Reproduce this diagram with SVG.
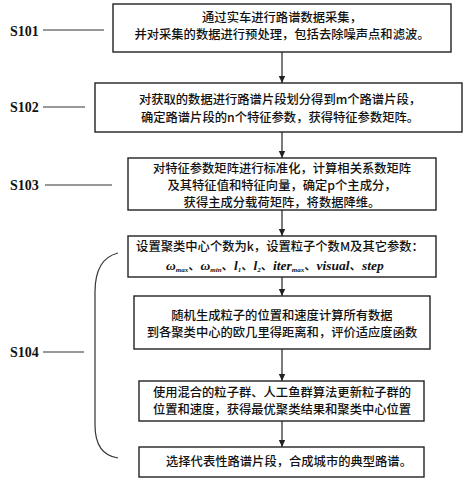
<svg xmlns="http://www.w3.org/2000/svg" width="474" height="482" viewBox="0 0 474 482">
<defs>
<marker id="ah" markerWidth="8" markerHeight="8" refX="7" refY="4" orient="auto" markerUnits="userSpaceOnUse">
<path d="M0,0.8 L7,4 L0,7.2 Z" fill="#222"/>
</marker>
<style>
.box{fill:#fff;stroke:#222;stroke-width:1.4}
.t{font-family:"Noto Sans CJK SC","Noto Sans CJK JP",sans-serif;font-size:12.3px;fill:#111;text-anchor:middle;font-weight:500}
.lbl{font-family:"Liberation Serif",serif;font-size:14px;font-weight:bold;fill:#111}
.ln{stroke:#333;stroke-width:1.2;fill:none}
.m{font-family:"Liberation Serif",serif;font-style:italic;font-weight:bold;font-size:13.5px;fill:#111}
.sub{font-size:7px}
.cjk{font-family:"Noto Sans CJK SC",sans-serif;font-style:normal;font-weight:500;font-size:12.3px}
</style>
</defs>
<rect width="474" height="482" fill="#fff"/>

<g id="labels">
<text class="lbl" x="10" y="36">S101</text>
<text class="lbl" x="10" y="112">S102</text>
<text class="lbl" x="10" y="190">S103</text>
<text class="lbl" x="10" y="357">S104</text>
<line class="ln" x1="43" y1="30" x2="104" y2="30"/>
<line class="ln" x1="43" y1="107" x2="85" y2="107"/>
<line class="ln" x1="45" y1="185" x2="112" y2="185"/>
<line class="ln" x1="43" y1="352" x2="84" y2="352"/>
<path class="ln" d="M118,253 C102,257 95,270 95,292 L95,425 C95,447 104,456 118,458"/>
</g>

<g id="connectors" stroke="#222" stroke-width="1.2">
<line x1="282" y1="52" x2="282" y2="83" marker-end="url(#ah)"/>
<line x1="282" y1="132" x2="282" y2="158" marker-end="url(#ah)"/>
<line x1="282" y1="210" x2="282" y2="236" marker-end="url(#ah)"/>
<line x1="282" y1="277" x2="282" y2="296" marker-end="url(#ah)"/>
<line x1="282" y1="349" x2="282" y2="381" marker-end="url(#ah)"/>
<line x1="282" y1="421" x2="282" y2="447" marker-end="url(#ah)"/>
</g>

<g id="s101">
<rect class="box" x="113" y="4" width="338" height="48"/>
<text class="t" x="282" y="22">通过实车进行路谱数据采集，</text>
<text class="t" x="282" y="39">并对采集的数据进行预处理，包括去除噪声点和滤波。</text>
</g>

<g id="s102">
<rect class="box" x="95" y="83" width="367" height="49"/>
<text class="t" x="280" y="104">对获取的数据进行路谱片段划分得到m个路谱片段，</text>
<text class="t" x="280" y="122">确定路谱片段的n个特征参数，获得特征参数矩阵。</text>
</g>

<g id="s103">
<rect class="box" x="128" y="158" width="308" height="52"/>
<text class="t" x="282" y="173">对特征参数矩阵进行标准化，计算相关系数矩阵</text>
<text class="t" x="282" y="190">及其特征值和特征向量，确定p个主成分，</text>
<text class="t" x="282" y="207">获得主成分载荷矩阵，将数据降维。</text>
</g>

<g id="s104a">
<rect class="box" x="128" y="236" width="308" height="41"/>
<text class="t" x="280" y="251">设置聚类中心个数为k，设置粒子个数M及其它参数：</text>
<text class="m" x="166" y="270">ω<tspan class="sub" dy="2">max</tspan><tspan class="cjk" dy="-2">、</tspan>ω<tspan class="sub" dy="2">min</tspan><tspan class="cjk" dy="-2">、</tspan>l<tspan class="sub" dy="2">1</tspan><tspan class="cjk" dy="-2">、</tspan>l<tspan class="sub" dy="2">2</tspan><tspan class="cjk" dy="-2">、</tspan>iter<tspan class="sub" dy="2">max</tspan><tspan class="cjk" dy="-2">、</tspan>visual<tspan class="cjk">、</tspan>step</text>
</g>

<g id="s104b">
<rect class="box" x="134" y="296" width="296" height="53"/>
<text class="t" x="282" y="320">随机生成粒子的位置和速度计算所有数据</text>
<text class="t" x="282" y="337">到各聚类中心的欧几里得距离和，评价适应度函数</text>
</g>

<g id="s104c">
<rect class="box" x="139" y="381" width="285" height="40"/>
<text class="t" x="282" y="397">使用混合的粒子群、人工鱼群算法更新粒子群的</text>
<text class="t" x="282" y="414">位置和速度，获得最优聚类结果和聚类中心位置</text>
</g>

<g id="s104d">
<rect class="box" x="139" y="447" width="285" height="30"/>
<text class="t" x="289" y="466">选择代表性路谱片段，合成城市的典型路谱。</text>
</g>
</svg>
